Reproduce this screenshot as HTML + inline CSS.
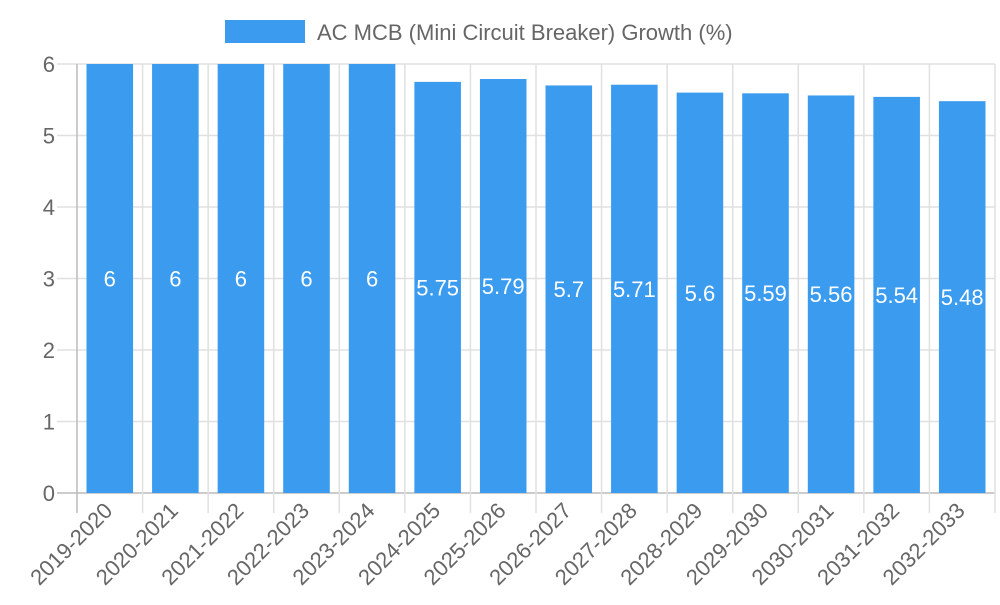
<!DOCTYPE html>
<html><head><meta charset="utf-8"><style>
body{margin:0;background:#fff;}
svg text{font-family:"Liberation Sans",sans-serif;}
</style></head><body>
<svg id="chart" width="1000" height="600" xmlns="http://www.w3.org/2000/svg">
<g>
<rect x="225" y="20" width="80" height="23" fill="#3a9bef"/>
<text x="317" y="40" font-size="22" fill="#666">AC MCB (Mini Circuit Breaker) Growth (%)</text>
</g>
<g id="grid"></g><g id="bars"></g><g id="labels"></g>
</svg>
<script>
const categories=["2019-2020","2020-2021","2021-2022","2022-2023","2023-2024","2024-2025","2025-2026","2026-2027","2027-2028","2028-2029","2029-2030","2030-2031","2031-2032","2032-2033"];
const values=[6,6,6,6,6,5.75,5.79,5.7,5.71,5.6,5.59,5.56,5.54,5.48];
const yTicks=[0,1,2,3,4,5,6];
const NS="http://www.w3.org/2000/svg";
const L=77,R=995,T=64,B=493,yMax=6;
const band=(R-L)/categories.length;
const xs=i=>L+band*i;
const y=v=>B-(v/yMax)*(B-T);
function mk(tag,attrs,parent){const e=document.createElementNS(NS,tag);for(const k in attrs)e.setAttribute(k,attrs[k]);document.getElementById(parent).appendChild(e);return e;}
yTicks.forEach(t=>{
 const g=mk('line',{x1:57,x2:R,y1:y(t),y2:y(t),stroke:t===0?'#bbb':'#e0e0e0','stroke-width':1.5},'grid');
 
 
 const tx=mk('text',{x:55,y:y(t)+8,'text-anchor':'end','font-size':22,fill:'#666'},'labels');
 tx.textContent=t;
 
 
});
for(let i=0;i<=categories.length;i++){
 const g=mk('line',{x1:xs(i),x2:xs(i),y1:T,y2:513,stroke:i===0?'#bbb':'#e0e0e0','stroke-width':1.5},'grid');
 
 
}
categories.forEach((c,i)=>{
 const bw=band*0.71,cx=xs(i)+band/2;
 const b=mk('rect',{x:cx-bw/2,y:y(values[i]),width:bw,height:B-y(values[i]),fill:'#3a9bef'},'bars');
 
 
 const v=mk('text',{x:cx,y:(y(values[i])+B)/2+8,'text-anchor':'middle','font-size':22,fill:'#fff'},'labels');
 v.textContent=values[i];
 
 
 const t=mk('text',{x:cx+4,y:512,'text-anchor':'end','font-size':22,fill:'#666',transform:`rotate(-45 ${cx+4} 512)`},'labels');
 t.textContent=c;
 
 
});
</script>
</body></html>
